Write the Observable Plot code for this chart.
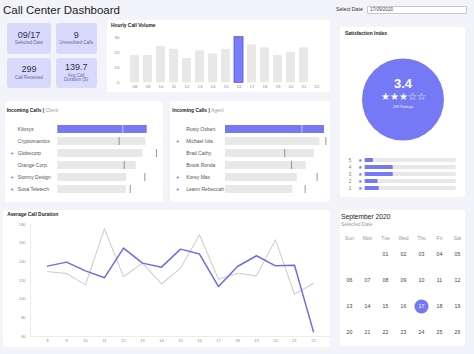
<!DOCTYPE html>
<html><head><meta charset="utf-8">
<script src="https://cdn.jsdelivr.net/npm/d3@7"></script>
<script src="https://cdn.jsdelivr.net/npm/@observablehq/plot@0.6"></script>
<style>
html,body{margin:0;padding:0}
body{width:474px;height:354px;background:#f3f3fa;position:relative;overflow:hidden;font-family:"Liberation Sans",Arial,sans-serif;color:#222}
.panel{position:absolute;background:#fff;border-radius:3px}
.t{position:absolute;white-space:nowrap;line-height:1;transform:translateY(-50%)}
.card{position:absolute;background:#d8d9fb;border-radius:3px;display:flex;flex-direction:column;align-items:center;justify-content:center;text-align:center;color:#2f2f55}
.card .v{font-size:9px;line-height:1}
.card .l{font-size:4.5px;line-height:1.05;color:#6a6aa0;margin-top:1.5px;white-space:pre-line}
</style></head><body>
<script>
// ---------- data ----------
const kpiValues = ["09/17", "9", "299", "139.7"];
const kpiLabels = ["Selected Date", "Unresolved Calls", "Call Received", "Avg Call\nDuration (S)"];

const hours = ["08","09","10","11","12","13","14","15","16","17","18","19","20","21","22"];
const hourlyCalls = [18, 18, 24, 22, 16, 21, 19, 22, 30, 25, 23, 18, 20, 23, 0];
const selectedHour = "16";

const clients = ["Kilosys", "Cryptomantics", "Globecorp", "Orange Corp.", "Stormy Design", "Sosa Teletech"];
const clientCalls = [59.6, 58.7, 56.9, 52.3, 45.8, 45.8];
const clientTargets = [43.3, 40.9, 65.8, 44.3, 58.0, 48.3];
const selectedClient = "Kilosys";

const agents = ["Rusty Osbert", "Michael Iola", "Brad Cathy", "Brook Ronda", "Korey Max", "Leann Rebeccah"];
const agentCalls = [66.0, 62.9, 59.3, 53.8, 48.0, 44.9];
const agentTargets = [50.9, 66.9, 39.5, 44.0, 61.1, 53.1];
const selectedAgent = "Rusty Osbert";

const satisfactionIndex = 3.4;
const ratingTotal = 299;
const ratingLevels = [5, 4, 3, 2, 1];
const ratingCounts = [27, 92, 92, 42, 46];

const durHours = [8, 9, 10, 11, 12, 13, 14, 15, 16, 17, 18, 19, 20, 21, 22];
const durSelected = [135.4, 139.7, 130.3, 123.0, 154.7, 138.6, 134.3, 153.6, 148.3, 113.5, 135.0, 146.5, 135.7, 136.4, 65.0];
const durCompare = [129.6, 127.4, 115.3, 175.6, 124.0, 138.6, 116.3, 133.2, 169.0, 121.4, 127.8, 125.0, 163.6, 105.3, 117.0];

const weekdays = ["Sun", "Mon", "Tue", "Wed", "Thu", "Fri", "Sat"];
const calYear = 2020, calMonth = 8; // September
const calVisibleDays = 26;
const selectedDay = 17;

// ---------- helpers ----------
const BLUE = "#7679f5";
const FONT = '"Liberation Sans", Arial, sans-serif';
const root = document.body;
function el(cls, x, y, w, h, html, css) {
  const d = document.createElement("div");
  d.className = cls;
  d.style.left = x + "px"; d.style.top = y + "px";
  if (w != null) d.style.width = w + "px";
  if (h != null) d.style.height = h + "px";
  if (html != null) d.innerHTML = html;
  if (css) Object.assign(d.style, css);
  root.appendChild(d);
  return d;
}
function plotAt(x, y, node) {
  node.style.position = "absolute";
  node.style.left = x + "px"; node.style.top = y + "px";
  root.appendChild(node);
}
const st = (fs, color) => ({background: "transparent", fontFamily: FONT, fontSize: fs, color: color, overflow: "visible"});

// ---------- panels ----------
el("panel", 107, 20, 223, 72);
el("panel", 340, 27, 125, 170);
el("panel", 5, 101, 158, 101);
el("panel", 170, 101, 160, 101);
el("panel", 3, 210, 326.5, 137);
el("panel", 340, 210, 125, 136);

// ---------- header ----------
el("t", 3, 10.5, null, null, "Call Center Dashboard", {fontSize: "11.5px", color: "#222"});
el("t", 336, 9.5, null, null, "Select Date", {fontSize: "5.2px", color: "#333"});
el("panel", 366.5, 5.5, 100.5, 8.5, null, {border: "0.6px solid #c8c8c8", borderRadius: "1px", boxSizing: "border-box"});
el("t", 370, 9.8, null, null, "17/09/2020", {fontSize: "4.6px", color: "#444"});

// ---------- KPI cards ----------
const cardBoxes = [[7.3, 23.3], [55.7, 23.3], [7.3, 57.7], [55.7, 57.7]];
const cardW = [43.4, 41, 43.4, 41];
kpiValues.forEach((v, i) => {
  const c = el("card", cardBoxes[i][0], cardBoxes[i][1], cardW[i], 30.6);
  c.innerHTML = `<div class="v"></div><div class="l"></div>`;
  c.querySelector(".v").textContent = v;
  c.querySelector(".l").textContent = kpiLabels[i];
});

// ---------- hourly call volume ----------
el("t", 111, 25.5, null, null, "Hourly Call Volume", {fontSize: "4.9px", fontWeight: "bold", color: "#222"});
const hourly = hours.map((h, i) => ({hour: h, calls: hourlyCalls[i]}));
plotAt(107, 30, Plot.plot({
  width: 223, height: 62, marginLeft: 15, marginRight: 1, marginTop: 6.7, marginBottom: 9.7,
  style: st("4.4px", "#8a8a8a"),
  x: {domain: hours, padding: 0.27, label: null, tickSize: 0, tickPadding: 2},
  y: {domain: [0, 30], ticks: [0, 10, 20, 30], label: null, tickSize: 0, tickPadding: 3},
  marks: [
    Plot.barY(hourly, {x: "hour", y: "calls", fill: "#e8e8e8"}),
    Plot.barY(hourly.filter(d => d.hour === selectedHour), {x: "hour", y: "calls", fill: "#7b7ef9", stroke: "#4f52d8", strokeWidth: 0.8})
  ]
}));

// ---------- bullet charts ----------
function bullet(names, calls, targets, selected, svgW, mLeft, nameX, dotX) {
  const data = names.map((n, i) => ({name: n, calls: calls[i], target: targets[i]}));
  const sel = data.filter(d => d.name === selected);
  const rest = data.filter(d => d.name !== selected);
  return Plot.plot({
    width: svgW, height: 86, marginLeft: mLeft, marginRight: svgW - mLeft - 105, marginTop: 3, marginBottom: 2.3,
    style: st("5px", "#555"),
    x: {domain: [0, 70], axis: null},
    y: {type: "band", domain: names, padding: 0.31, axis: null},
    marks: [
      Plot.barX(rest, {y: "name", x: "calls", fill: "#e8e8e8"}),
      Plot.barX(sel, {y: "name", x: "calls", fill: BLUE}),
      Plot.tickX(rest, {y: "name", x: "target", stroke: "#7a7a7a", strokeWidth: 0.8}),
      Plot.tickX(sel, {y: "name", x: "target", stroke: "#dcdcf6", strokeWidth: 0.8}),
      Plot.text(data, {y: "name", text: "name", frameAnchor: "left", textAnchor: "start", dx: nameX - mLeft, fill: "#555"}),
      Plot.dot(data.filter(d => d.target > d.calls), {y: "name", frameAnchor: "left", dx: dotX - mLeft, r: 1.1, fill: BLUE})
    ]
  });
}
const t1 = el("t", 6.7, 110.5, null, null, "", {fontSize: "4.9px", color: "#222"});
t1.innerHTML = '<b>Incoming Calls |</b> <span style="color:#9a9a9a">Client</span>';
plotAt(5, 116, bullet(clients, clientCalls, clientTargets, selectedClient, 158, 52.3, 12.3, 6.7));
const t2 = el("t", 172.3, 110.5, null, null, "", {fontSize: "4.9px", color: "#222"});
t2.innerHTML = '<b>Incoming Calls |</b> <span style="color:#9a9a9a">Agent</span>';
plotAt(170, 116, bullet(agents, agentCalls, agentTargets, selectedAgent, 160, 55, 15.7, 7.3));

// ---------- satisfaction ----------
el("t", 345, 33.5, null, null, "Satisfaction Index", {fontSize: "4.9px", fontWeight: "bold", color: "#222"});
const fullStars = Math.floor(satisfactionIndex);
const starText = "★".repeat(fullStars) + "☆".repeat(5 - fullStars);
plotAt(340, 40, Plot.plot({
  width: 125, height: 118, margin: 0, style: st("5px", "#fff"),
  x: {axis: null}, y: {axis: null},
  marks: [
    Plot.dot([satisfactionIndex], {frameAnchor: "middle", r: 41, fill: BLUE}),
    Plot.text([satisfactionIndex], {frameAnchor: "middle", text: d => d.toFixed(1), dy: -15.5, fill: "#fff", fontSize: 13, fontWeight: "bold"}),
    Plot.text([starText], {frameAnchor: "middle", text: d => d, dy: -2.3, fill: "#fff", fontSize: 9.5}),
    Plot.text([ratingTotal], {frameAnchor: "middle", text: d => `${d} Ratings`, dy: 7.7, fill: "#f0f0ff", fontSize: 3.9})
  ]
}));
const ratings = ratingLevels.map((l, i) => ({level: String(l), count: ratingCounts[i]}));
plotAt(340, 152, Plot.plot({
  width: 125, height: 45, marginLeft: 24.7, marginRight: 9.3, marginTop: 1.8, marginBottom: 1.5,
  style: st("4.5px", "#777"),
  x: {domain: [0, ratingTotal], axis: null},
  y: {type: "band", domain: ratingLevels.map(String), padding: 0.36, axis: null},
  marks: [
    Plot.barX(ratings, {y: "level", x: ratingTotal, fill: "#e8e8e8"}),
    Plot.barX(ratings, {y: "level", x: "count", fill: BLUE}),
    Plot.text(ratings, {y: "level", text: "level", frameAnchor: "left", dx: -16.4, fill: "#777"}),
    Plot.text(ratings, {y: "level", text: () => "★", frameAnchor: "left", dx: -7, fill: BLUE, fontSize: 4.5})
  ]
}));

// ---------- average call duration ----------
el("t", 7.3, 214.5, null, null, "Average Call Duration", {fontSize: "4.9px", fontWeight: "bold", color: "#222"});
const durCompareData = durHours.map((h, i) => ({hour: h, value: durCompare[i]}));
const durSelectedData = durHours.map((h, i) => ({hour: h, value: durSelected[i]}));
plotAt(0, 220, Plot.plot({
  width: 330, height: 126, marginLeft: 30, marginRight: 1, marginTop: 4, marginBottom: 10,
  style: st("3.9px", "#8a8a8a"),
  x: {type: "point", domain: durHours, padding: 0.5, label: null, tickSize: 0, tickPadding: 3},
  y: {domain: [60, 180], ticks: [60, 80, 100, 120, 140, 160, 180], label: null, tickSize: 0, tickPadding: 5},
  marks: [
    Plot.frame({anchor: "left", stroke: "#ececec"}),
    Plot.frame({anchor: "bottom", stroke: "#ececec"}),
    Plot.line(durCompareData, {x: "hour", y: "value", stroke: "#cfcfcf", strokeWidth: 1.1}),
    Plot.line(durSelectedData, {x: "hour", y: "value", stroke: "#6b6de8", strokeWidth: 1.5})
  ]
}));

// ---------- calendar ----------
el("t", 341, 216.5, null, null, "September 2020", {fontSize: "6.7px", color: "#222"});
el("t", 341, 223.5, null, null, "Selected Date", {fontSize: "5px", color: "#999"});
const firstDow = new Date(calYear, calMonth, 1).getDay();
const calDays = d3.range(1, calVisibleDays + 1).map(d => ({
  day: d, label: String(d).padStart(2, "0"),
  dow: weekdays[(firstDow + d - 1) % 7], week: "w" + Math.floor((firstDow + d - 1) / 7)
}));
const selDays = calDays.filter(d => d.day === selectedDay);
plotAt(339, 228, Plot.plot({
  width: 127, height: 118, marginLeft: 0, marginRight: 0, marginTop: 12, marginBottom: 0,
  style: st("5.2px", "#444"),
  x: {type: "band", domain: weekdays, padding: 0, axis: null},
  y: {type: "band", domain: ["w0", "w1", "w2", "w3"], padding: 0, axis: null},
  marks: [
    Plot.text(weekdays, {x: d => d, text: d => d, frameAnchor: "top", dy: -4.3, fill: "#9a9a9a", fontSize: 5}),
    Plot.dot(selDays, {x: "dow", y: "week", r: 7, fill: BLUE}),
    Plot.text(calDays.filter(d => d.day !== selectedDay), {x: "dow", y: "week", text: "label", fill: "#444"}),
    Plot.text(selDays, {x: "dow", y: "week", text: "label", fill: "#fff"})
  ]
}));
</script>
</body></html>
